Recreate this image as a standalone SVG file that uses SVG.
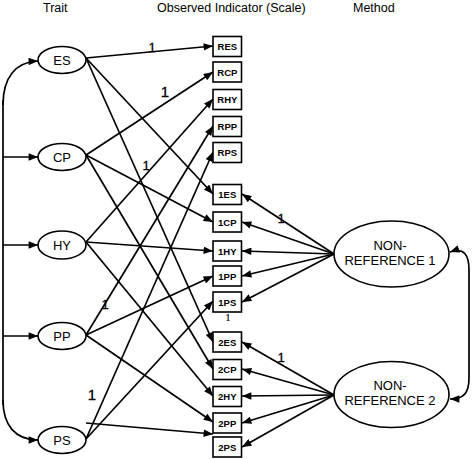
<svg xmlns="http://www.w3.org/2000/svg" width="474" height="459" viewBox="0 0 474 459">
<defs>
<marker id="ah" viewBox="0 0 10 8" refX="10" refY="4" markerWidth="10" markerHeight="7.5" markerUnits="userSpaceOnUse" orient="auto-start-reverse">
<path d="M0,0 L10,4 L0,8 z" fill="#000"/>
</marker>
<style>
.hd{font-family:"Liberation Sans",Arial,sans-serif;font-size:12.5px;fill:#000}
.nt{font-family:"Liberation Sans",Arial,sans-serif;font-size:13px;fill:#000;text-anchor:middle}
.bt{font-family:"Liberation Sans",Arial,sans-serif;font-size:9.5px;fill:#000;text-anchor:middle;font-weight:bold}
.lb{font-family:"Liberation Sans",Arial,sans-serif;font-size:13px;fill:#000;stroke:#000;stroke-width:0.3;text-anchor:middle}
.el{fill:#fff;stroke:#000;stroke-width:1.6}
.bx{fill:#fff;stroke:#000;stroke-width:1.6}
.ln{fill:none;stroke:#000;stroke-width:1.7}
.cn{fill:none;stroke:#000;stroke-width:1.7;marker-end:url(#ah)}
</style>
</defs>
<rect width="474" height="459" fill="#fff"/>
<text class="hd" x="43" y="12">Trait</text>
<text class="hd" x="157" y="12">Observed Indicator (Scale)</text>
<text class="hd" x="353" y="12">Method</text>

<g id="connectors">
<path class="cn" d="M3,105 C3,78 15,62 38,61"/>
<path class="ln" d="M3,100 L3,405"/>
<path class="cn" d="M3,157 L38,157"/>
<path class="cn" d="M3,245 L38,245"/>
<path class="cn" d="M3,336 L38,336"/>
<path class="cn" d="M3,400 C3,425 15,440 38,440"/>
<path class="cn" d="M86,58 L213,46"/>
<path class="cn" d="M86,58 L213,194"/>
<path class="cn" d="M86,58 L213,342"/>
<path class="cn" d="M86,155 L213,72"/>
<path class="cn" d="M86,155 L213,222"/>
<path class="cn" d="M86,155 L213,369"/>
<path class="cn" d="M86,242 L213,99"/>
<path class="cn" d="M86,242 L213,251"/>
<path class="cn" d="M86,242 L213,396"/>
<path class="cn" d="M86,335 L213,126"/>
<path class="cn" d="M86,335 L213,276"/>
<path class="cn" d="M86,335 L213,422"/>
<path class="cn" d="M86,439 L213,152"/>
<path class="cn" d="M86,439 L213,301"/>
<path class="cn" d="M86,423 L213,434"/>
<path class="cn" d="M334,254 L242,194"/>
<path class="cn" d="M334,254 L242,222"/>
<path class="cn" d="M334,254 L242,251"/>
<path class="cn" d="M334,254 L242,276"/>
<path class="cn" d="M334,254 L242,302"/>
<path class="cn" d="M334,395 L242,342"/>
<path class="cn" d="M334,395 L242,369"/>
<path class="cn" d="M334,395 L242,396"/>
<path class="cn" d="M334,395 L242,423"/>
<path class="cn" d="M334,395 L242,447"/>
<path class="cn" style="marker-start:url(#ah)" d="M450,252 C464,247 469,255 469,270 L469,378 C469,393 464,399 450,399"/>
<text class="lb" x="152" y="52">1</text>
<text class="lb" x="165" y="97" style="font-size:15px">1</text>
<text class="lb" x="146" y="170">1</text>
<text class="lb" x="105" y="309">1</text>
<text class="lb" x="92" y="400" style="font-size:15px">1</text>
<text class="lb" x="281" y="223">1</text>
<text class="lb" x="281" y="362">1</text>
<text class="lb" x="228" y="321" style="font-family:'Liberation Serif',serif;font-size:10px;stroke-width:0.2">1</text>
</g>

<g id="ES"><ellipse class="el" cx="62" cy="60" rx="24" ry="13.5"/><text class="nt" x="62" y="64.5">ES</text></g>
<g id="CP"><ellipse class="el" cx="62" cy="157" rx="24" ry="13.5"/><text class="nt" x="62" y="161.5">CP</text></g>
<g id="HY"><ellipse class="el" cx="62" cy="245" rx="24" ry="14"/><text class="nt" x="62" y="249.5">HY</text></g>
<g id="PP"><ellipse class="el" cx="62" cy="336" rx="24" ry="13.5"/><text class="nt" x="62" y="340.5">PP</text></g>
<g id="PS"><ellipse class="el" cx="62" cy="440" rx="24" ry="13.5"/><text class="nt" x="62" y="444.5">PS</text></g>

<g id="RES"><rect class="bx" x="213" y="36.5" width="28.5" height="20"/><text class="bt" x="227.3" y="50">RES</text></g>
<g id="RCP"><rect class="bx" x="213" y="62" width="28.5" height="20"/><text class="bt" x="227.3" y="75.5">RCP</text></g>
<g id="RHY"><rect class="bx" x="213" y="89.5" width="28.5" height="20"/><text class="bt" x="227.3" y="103">RHY</text></g>
<g id="RPP"><rect class="bx" x="213" y="116.5" width="28.5" height="20"/><text class="bt" x="227.3" y="130">RPP</text></g>
<g id="RPS"><rect class="bx" x="213" y="142.5" width="28.5" height="20"/><text class="bt" x="227.3" y="156">RPS</text></g>
<g id="1ES"><rect class="bx" x="213" y="184.5" width="28.5" height="20"/><text class="bt" x="227.3" y="198">1ES</text></g>
<g id="1CP"><rect class="bx" x="213" y="212" width="28.5" height="20"/><text class="bt" x="227.3" y="225.5">1CP</text></g>
<g id="1HY"><rect class="bx" x="213" y="241" width="28.5" height="20"/><text class="bt" x="227.3" y="254.5">1HY</text></g>
<g id="1PP"><rect class="bx" x="213" y="266" width="28.5" height="20"/><text class="bt" x="227.3" y="279.5">1PP</text></g>
<g id="1PS"><rect class="bx" x="213" y="292" width="28.5" height="20"/><text class="bt" x="227.3" y="305.5">1PS</text></g>
<g id="2ES"><rect class="bx" x="213" y="332" width="28.5" height="20"/><text class="bt" x="227.3" y="345.5">2ES</text></g>
<g id="2CP"><rect class="bx" x="213" y="359.5" width="28.5" height="20"/><text class="bt" x="227.3" y="373">2CP</text></g>
<g id="2HY"><rect class="bx" x="213" y="386.5" width="28.5" height="20"/><text class="bt" x="227.3" y="400">2HY</text></g>
<g id="2PP"><rect class="bx" x="213" y="413" width="28.5" height="20"/><text class="bt" x="227.3" y="426.5">2PP</text></g>
<g id="2PS"><rect class="bx" x="213" y="437" width="28.5" height="20"/><text class="bt" x="227.3" y="450.5">2PS</text></g>

<g id="NR1"><ellipse class="el" cx="391.5" cy="254" rx="57.5" ry="33"/><text class="nt" x="390" y="250">NON-</text><text class="nt" x="390" y="265">REFERENCE 1</text></g>
<g id="NR2"><ellipse class="el" cx="391.5" cy="394.5" rx="57.5" ry="33"/><text class="nt" x="390" y="390">NON-</text><text class="nt" x="390" y="405">REFERENCE 2</text></g>
</svg>
